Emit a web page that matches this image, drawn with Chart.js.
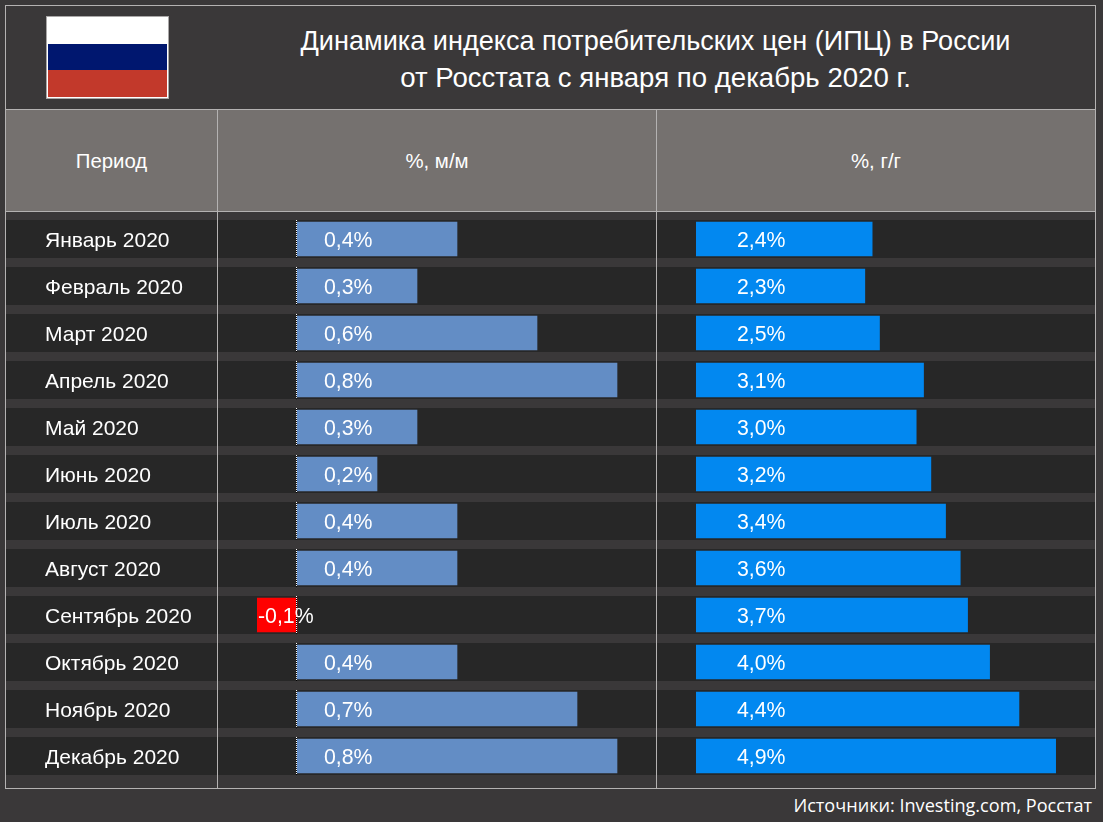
<!DOCTYPE html>
<html lang="ru">
<head>
<meta charset="utf-8">
<title>Динамика ИПЦ в России</title>
<script src="https://cdn.jsdelivr.net/npm/chart.js@4"></script>
<style>
  html, body { margin: 0; padding: 0; background: #3a3839; }
  body { position: relative; width: 1103px; height: 822px; overflow: hidden;
         font-family: "Liberation Sans", Arial, sans-serif; color: #fff; }
  .abs { position: absolute; }
  .frame { left: 5px; top: 5px; width: 1089px; height: 782px; border: 1px solid #b4b2b2; }
  .head { left: 6px; top: 110px; width: 1089px; height: 101px; background: #75716f; }
  .rule { background: #b4b2b2; }
  .bands { left: 6px; top: 220px; width: 1089px; height: 555px;
           background: repeating-linear-gradient(#272727 0 38px, #3a3839 38px 47px); }
  .flag { left: 47px; top: 17px; width: 119px; height: 79px; border: 1px solid #fff; outline: 1px solid #a9a7a7;
          background: linear-gradient(#fff 0 26px, #00176f 26px 52.5px, #c2392b 52.5px); }
  .title { left: 218px; width: 875px; text-align: center; font-size: 27.6px; line-height: 37px; top: 22px; }
  .title .first { font-size: 27.1px; }
  .th { top: 150px; font-size: 20.4px; line-height: 23px; text-align: center; }
  .source { right: 11px; top: 793px; font: 18.1px/25px "Open Sans", sans-serif; }
  canvas { position: absolute; }
</style>
</head>
<body>
<div class="abs frame"></div>
<div class="abs head"></div>
<div class="abs bands"></div>
<div class="abs rule" style="left:6px;top:109px;width:1089px;height:1px"></div>
<div class="abs rule" style="left:6px;top:211px;width:1089px;height:1px"></div>
<div class="abs rule" style="left:217px;top:110px;width:1px;height:678px"></div>
<div class="abs rule" style="left:656px;top:110px;width:1px;height:678px"></div>
<div class="abs flag"></div>
<div class="abs title"><span class="first">Динамика индекса потребительских цен (ИПЦ) в России</span><br>от Росстата с января по декабрь 2020 г.</div>
<div class="abs th" style="left:6px;width:211px">Период</div>
<div class="abs th" style="left:218px;width:438px">%, м/м</div>
<div class="abs th" style="left:657px;width:438px">%, г/г</div>
<div class="abs source">Источники: Investing.com, Росстат</div>

<canvas id="momChart" style="left:45px;top:215px"></canvas>
<canvas id="yoyChart" style="left:696px;top:215px"></canvas>

<script>
const periods = ['Январь 2020', 'Февраль 2020', 'Март 2020', 'Апрель 2020', 'Май 2020', 'Июнь 2020',
  'Июль 2020', 'Август 2020', 'Сентябрь 2020', 'Октябрь 2020', 'Ноябрь 2020', 'Декабрь 2020'];
const momValues = [0.4, 0.3, 0.6, 0.8, 0.3, 0.2, 0.4, 0.4, -0.1, 0.4, 0.7, 0.8];
const yoyValues = [2.4, 2.3, 2.5, 3.1, 3.0, 3.2, 3.4, 3.6, 3.7, 4.0, 4.4, 4.9];

const FONT = '"Liberation Sans", Arial, sans-serif';
const fmt = v => v.toFixed(1).replace('.', ',') + '%';

/* Value labels and the dotted zero line, drawn on top of the bars */
const rowMarks = {
  id: 'rowMarks',
  afterDatasetsDraw(chart, _args, opts) {
    const { ctx, scales: { x, y } } = chart;
    const zero = x.getPixelForValue(0);
    ctx.save();
    ctx.font = '21.3px ' + FONT;
    ctx.textBaseline = 'middle';
    ctx.textAlign = 'left';
    opts.values.forEach((v, i) => {
      const cy = y.getPixelForValue(i);
      if (opts.dotted) {
        ctx.fillStyle = '#000';
        ctx.fillRect(zero - 1, cy - 19, 1, 38);
        ctx.fillStyle = '#fff';
        for (let d = cy - 19; d < cy + 19; d += 2) ctx.fillRect(zero - 1, d, 1, 1);
      }
      ctx.fillStyle = '#fff';
      const tx = v < 0 ? x.getPixelForValue(v) + 1 : zero + opts.offset;
      ctx.fillText(fmt(v), tx, cy + 2);
    });
    ctx.restore();
  }
};

function buildChart(id, values, colors, min, max, opts) {
  const canvas = document.getElementById(id);
  canvas.width = opts.width;
  canvas.height = 565;
  canvas.style.width = opts.width + 'px';
  canvas.style.height = '565px';
  return new Chart(canvas.getContext('2d'), {
    type: 'bar',
    plugins: [rowMarks],
    data: {
      labels: periods,
      datasets: [{ data: values, backgroundColor: colors, borderWidth: 0, barThickness: 34 }]
    },
    options: {
      indexAxis: 'y',
      responsive: false,
      animation: false,
      devicePixelRatio: 1,
      layout: { padding: { top: 0.5, bottom: 0.5, left: 0, right: 0 } },
      plugins: {
        legend: { display: false },
        tooltip: { enabled: false },
        rowMarks: { values, offset: opts.offset, dotted: opts.dotted }
      },
      scales: {
        x: { display: false, min, max },
        y: {
          display: opts.axisWidth > 0,
          // keep the row pitch: no room reserved for the first and last label
          afterFit: s => {
            s.width = opts.axisWidth;
            s.paddingTop = 0;
            s.paddingBottom = 0;
          },
          grid: { display: false },
          border: { display: false },
          ticks: {
            color: '#fff',
            font: { family: FONT, size: 21 },
            crossAlign: 'far',
            autoSkip: false,
            padding: 0,
            labelOffset: 2
          }
        }
      }
    }
  });
}

buildChart('momChart', momValues, momValues.map(v => v < 0 ? '#ff0000' : '#638dc5'), -0.1, 0.9,
  { width: 612, axisWidth: 212, offset: 27, dotted: true });
buildChart('yoyChart', yoyValues, '#0288f0', 0, 5,
  { width: 367, axisWidth: 0, offset: 41, dotted: false });
</script>
</body>
</html>
